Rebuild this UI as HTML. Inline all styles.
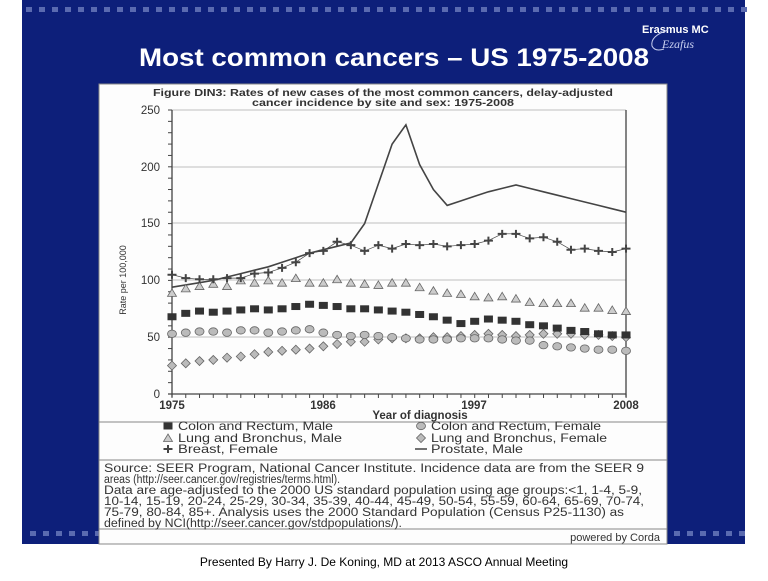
<!DOCTYPE html>
<html><head><meta charset="utf-8"><style>
html,body{margin:0;padding:0;background:#fff;}
body{width:768px;height:576px;position:relative;overflow:hidden;font-family:"Liberation Sans",sans-serif;}
</style></head><body>
<svg id="s" width="768" height="576" viewBox="0 0 768 576" xmlns="http://www.w3.org/2000/svg" font-family="Liberation Sans, sans-serif">
<rect x="22" y="0" width="723" height="544" fill="#0d1f7a"/>
<g id="dots" fill="#5a6ab0"></g>
<text x="139" y="66" fill="#fff" font-size="25" font-weight="bold" textLength="510" lengthAdjust="spacingAndGlyphs">Most common cancers – US 1975-2008</text>
<text x="642" y="33" fill="#fff" font-size="11" font-weight="bold">Erasmus MC</text>
<text x="662" y="48" fill="#c8cff0" font-size="12" font-style="italic" font-family="Liberation Serif, serif">Ezafus</text>
<path d="M668 30 Q650 36 652 46 Q655 52 664 49" stroke="#c8cff0" fill="none" stroke-width="1"/>
<rect x="99" y="84" width="568" height="460" fill="#fdfdfd" stroke="#888" stroke-width="1"/>
<text x="383" y="96" text-anchor="middle" font-size="10" font-weight="bold" fill="#333" textLength="460" lengthAdjust="spacingAndGlyphs">Figure DIN3: Rates of new cases of the most common cancers, delay-adjusted</text>
<text x="383" y="106" text-anchor="middle" font-size="10" font-weight="bold" fill="#333" textLength="262" lengthAdjust="spacingAndGlyphs">cancer incidence by site and sex: 1975-2008</text>
<g stroke="#aaa" stroke-width="0.8">
<line x1="172" y1="110" x2="626" y2="110"/><line x1="172" y1="167" x2="626" y2="167"/><line x1="172" y1="223" x2="626" y2="223"/><line x1="172" y1="280" x2="626" y2="280"/><line x1="172" y1="337" x2="626" y2="337"/>
</g>
<g stroke="#444" stroke-width="1.3"><line x1="172" y1="110" x2="172" y2="397"/><line x1="626" y1="110" x2="626" y2="397"/><line x1="168" y1="394" x2="626" y2="394"/></g>
<g id="ticks" stroke="#444" stroke-width="1"></g>
<g font-size="11.5" fill="#333" text-anchor="end">
<text x="160" y="114">250</text><text x="160" y="171">200</text><text x="160" y="227">150</text><text x="160" y="284">100</text><text x="160" y="341">50</text><text x="160" y="398">0</text>
</g>
<g font-size="11.5" fill="#333" text-anchor="middle" font-weight="bold">
<text x="172" y="409">1975</text><text x="323" y="409">1986</text><text x="474" y="409">1997</text><text x="626" y="409">2008</text>
</g>
<text x="420" y="419" text-anchor="middle" font-size="11.5" font-weight="bold" fill="#333">Year of diagnosis</text>
<text transform="translate(126 280) rotate(-90)" font-size="9" text-anchor="middle" fill="#333">Rate per 100,000</text>
<g id="data"></g>
<line x1="99" y1="422" x2="667" y2="422" stroke="#888"/>
<line x1="99" y1="460" x2="667" y2="460" stroke="#888"/>
<line x1="99" y1="529" x2="667" y2="529" stroke="#888"/>
<g font-size="12" fill="#333">
<text x="178" y="430" textLength="155" lengthAdjust="spacingAndGlyphs">Colon and Rectum, Male</text>
<text x="178" y="442" textLength="164" lengthAdjust="spacingAndGlyphs">Lung and Bronchus, Male</text>
<text x="178" y="453" textLength="100" lengthAdjust="spacingAndGlyphs">Breast, Female</text>
<text x="431" y="430" textLength="170" lengthAdjust="spacingAndGlyphs">Colon and Rectum, Female</text>
<text x="431" y="442" textLength="176" lengthAdjust="spacingAndGlyphs">Lung and Bronchus, Female</text>
<text x="431" y="453" textLength="92" lengthAdjust="spacingAndGlyphs">Prostate, Male</text>
</g>
<g id="leg"></g>
<g font-size="11.5" fill="#333">
<text x="104" y="472" textLength="540" lengthAdjust="spacingAndGlyphs">Source: SEER Program, National Cancer Institute. Incidence data are from the SEER 9</text>
<text x="104" y="483" textLength="236" lengthAdjust="spacingAndGlyphs">areas (http://seer.cancer.gov/registries/terms.html).</text>
<text x="104" y="494" textLength="538" lengthAdjust="spacingAndGlyphs">Data are age-adjusted to the 2000 US standard population using age groups:&lt;1, 1-4, 5-9,</text>
<text x="104" y="505" textLength="540" lengthAdjust="spacingAndGlyphs">10-14, 15-19, 20-24, 25-29, 30-34, 35-39, 40-44, 45-49, 50-54, 55-59, 60-64, 65-69, 70-74,</text>
<text x="104" y="516" textLength="520" lengthAdjust="spacingAndGlyphs">75-79, 80-84, 85+. Analysis uses the 2000 Standard Population (Census P25-1130) as</text>
<text x="104" y="527" textLength="298" lengthAdjust="spacingAndGlyphs">defined by NCI(http://seer.cancer.gov/stdpopulations/).</text>
<text x="660" y="541" text-anchor="end" font-size="11">powered by Corda</text>
</g>
<text x="384" y="566" text-anchor="middle" font-size="12" fill="#000">Presented By Harry J. De Koning, MD at 2013 ASCO Annual Meeting</text>
</svg>
<script>
var NS="http://www.w3.org/2000/svg";
function el(p,t,a){var e=document.createElementNS(NS,t);for(var k in a)e.setAttribute(k,a[k]);p.appendChild(e);return e;}
var dots=document.getElementById('dots');
for(var x=26;x<745;x+=13){el(dots,'rect',{x:x,y:7,width:6,height:5});}
for(var x=30;x<96;x+=13){el(dots,'rect',{x:x,y:531,width:6,height:5});}
for(var x=674;x<745;x+=13){el(dots,'rect',{x:x,y:531,width:6,height:5});}
var tk=document.getElementById('ticks');
for(var i=0;i<=33;i++){var tx=172+i*13.76;el(tk,'line',{x1:tx,y1:394,x2:tx,y2:398});}
for(var v=0;v<=250;v+=10){var ty=394-v*1.136;el(tk,'line',{x1:168,y1:ty,x2:172,y2:ty});}
function PX(i){return 172+i*13.758;}function PY(v){return 394-v*1.136;}
var g=document.getElementById('data');
var pros=[94,96,98,100,103,106,109,112,116,120,124,127,130,133,150,185,220,237,202,180,166,170,174,178,181,184,181,178,175,172,169,166,163,160];
var brst=[105,102,101,101,102,102,106,107,111,116,124,126,134,131,126,131,128,132,131,132,130,131,132,135,141,141,137,138,134,127,128,126,125,128,128];
var lm=[89,93,95,97,95,100,98,100,98,102,98,98,101,98,97,96,98,98,94,91,89,88,86,85,86,84,81,80,80,80,76,76,74,73,71];
var cm=[68,71,73,72,73,74,75,74,75,77,79,78,77,75,75,74,73,72,70,68,65,62,64,66,65,64,61,60,58,56,55,53,52,52];
var cf=[53,54,55,55,54,56,56,54,55,56,57,54,52,51,52,51,50,49,48,48,48,49,49,49,48,47,47,43,42,41,40,39,39,38,40];
var lf=[25,27,29,30,32,33,35,37,38,39,40,42,44,46,46,48,49,49,49,50,50,51,52,53,52,51,52,53,53,53,52,52,51,50];
function line(d,w){var p='';for(var i=0;i<d.length&&i<34;i++)p+=(i?'L':'M')+PX(i).toFixed(1)+' '+PY(d[i]).toFixed(1);el(g,'path',{d:p,fill:'none',stroke:'#444','stroke-width':w});}
line(pros,1.6);line(brst,0.7);
function sq(p,x,y){el(p,'rect',{x:x-4.5,y:y-3.5,width:9,height:7,fill:'#333'});}
function tri(p,x,y){el(p,'path',{d:'M'+x+' '+(y-4)+'L'+(x+4.5)+' '+(y+3.5)+'L'+(x-4.5)+' '+(y+3.5)+'Z',fill:'#ccc',stroke:'#666','stroke-width':0.8});}
function cir(p,x,y){el(p,'ellipse',{cx:x,cy:y,rx:4.5,ry:3.7,fill:'#bbb',stroke:'#666','stroke-width':0.8});}
function dia(p,x,y){el(p,'path',{d:'M'+x+' '+(y-4.5)+'L'+(x+4.5)+' '+y+'L'+x+' '+(y+4.5)+'L'+(x-4.5)+' '+y+'Z',fill:'#bbb',stroke:'#666','stroke-width':0.8});}
function crs(p,x,y){el(p,'path',{d:'M'+(x-4.5)+' '+y+'H'+(x+4.5)+'M'+x+' '+(y-4)+'V'+(y+4),stroke:'#444','stroke-width':2});}
function ser(d,f){for(var i=0;i<34;i++)f(g,PX(i),PY(d[i]));}
ser(lf,dia);ser(cf,cir);ser(lm,tri);ser(cm,sq);ser(brst,crs);
var L=document.getElementById('leg');
sq(L,168,426);tri(L,168,438);crs(L,168,449);cir(L,421,426);dia(L,421,438);
el(L,'line',{x1:415,y1:449,x2:427,y2:449,stroke:'#444','stroke-width':1.5});
</script>
</body></html>
